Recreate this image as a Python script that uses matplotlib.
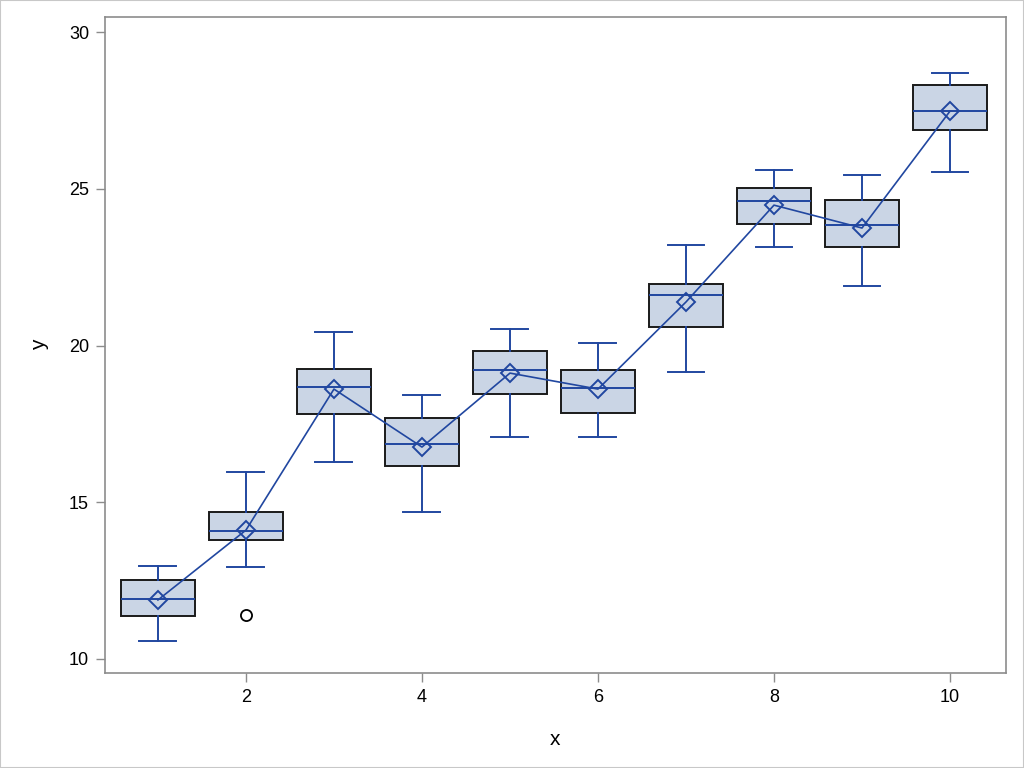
import matplotlib.pyplot as plt
from matplotlib.patches import Rectangle

plt.rcParams['font.family'] = ['Liberation Sans', 'DejaVu Sans']

x = [1, 2, 3, 4, 5, 6, 7, 8, 9, 10]
whislo = [10.57, 12.93, 16.28, 14.69, 17.08, 17.08, 19.15, 23.14, 21.90, 25.53]
q1 = [11.37, 13.80, 17.81, 16.16, 18.45, 17.85, 20.59, 23.88, 23.14, 26.87]
med = [11.91, 14.08, 18.68, 16.86, 19.22, 18.64, 21.61, 24.61, 23.84, 27.48]
q3 = [12.52, 14.69, 19.25, 17.69, 19.82, 19.22, 21.96, 25.02, 24.64, 28.31]
whishi = [12.97, 15.96, 20.43, 18.42, 20.53, 20.08, 23.21, 25.60, 25.44, 28.69]
means = [11.88, 14.11, 18.61, 16.76, 19.12, 18.61, 21.39, 24.48, 23.75, 27.48]
fliers = {2: [11.40]}

blue = '#2147A0'
fill = '#CAD5E5'
grey = '#8C8C8C'

stats = []
for i in range(len(x)):
    stats.append(dict(whislo=whislo[i], q1=q1[i], med=med[i], q3=q3[i],
                      whishi=whishi[i], fliers=fliers.get(x[i], [])))

fig = plt.figure(figsize=(10.24, 7.68), dpi=100)
fig.patches.append(Rectangle((0, 0), 1, 1, transform=fig.transFigure,
                             fill=False, edgecolor='#C8C8C8', lw=1.5))
ax = fig.add_axes([0.1025, 0.1237, 0.8799, 0.854])

ax.bxp(stats, positions=x, widths=0.85, patch_artist=True, showfliers=True,
       boxprops=dict(facecolor=fill, edgecolor='#1A1A1A', linewidth=1.4),
       medianprops=dict(color=blue, linewidth=1.4),
       whiskerprops=dict(color=blue, linewidth=1.4),
       capprops=dict(color=blue, linewidth=1.4),
       capwidths=0.42,
       flierprops=dict(marker='o', markerfacecolor='none', markeredgecolor='black',
                       markersize=8, markeredgewidth=1.3),
       manage_ticks=False)

ax.plot(x, means, color=blue, linewidth=1.2, marker='D', markersize=9,
        markerfacecolor='none', markeredgecolor=blue, markeredgewidth=1.4, zorder=5)

ax.set_xlim(0.398, 10.636)
ax.set_ylim(9.55, 30.48)
ax.set_xticks([2, 4, 6, 8, 10])
ax.set_yticks([10, 15, 20, 25, 30])
ax.set_xlabel('x', fontsize=15, labelpad=17)
ax.set_ylabel('y', fontsize=15, labelpad=14)
ax.tick_params(labelsize=13, color=grey, length=6.5, width=1, pad=5)
for s in ax.spines.values():
    s.set_color(grey)
    s.set_linewidth(1.2)

fig.savefig('out.png', dpi=100)
